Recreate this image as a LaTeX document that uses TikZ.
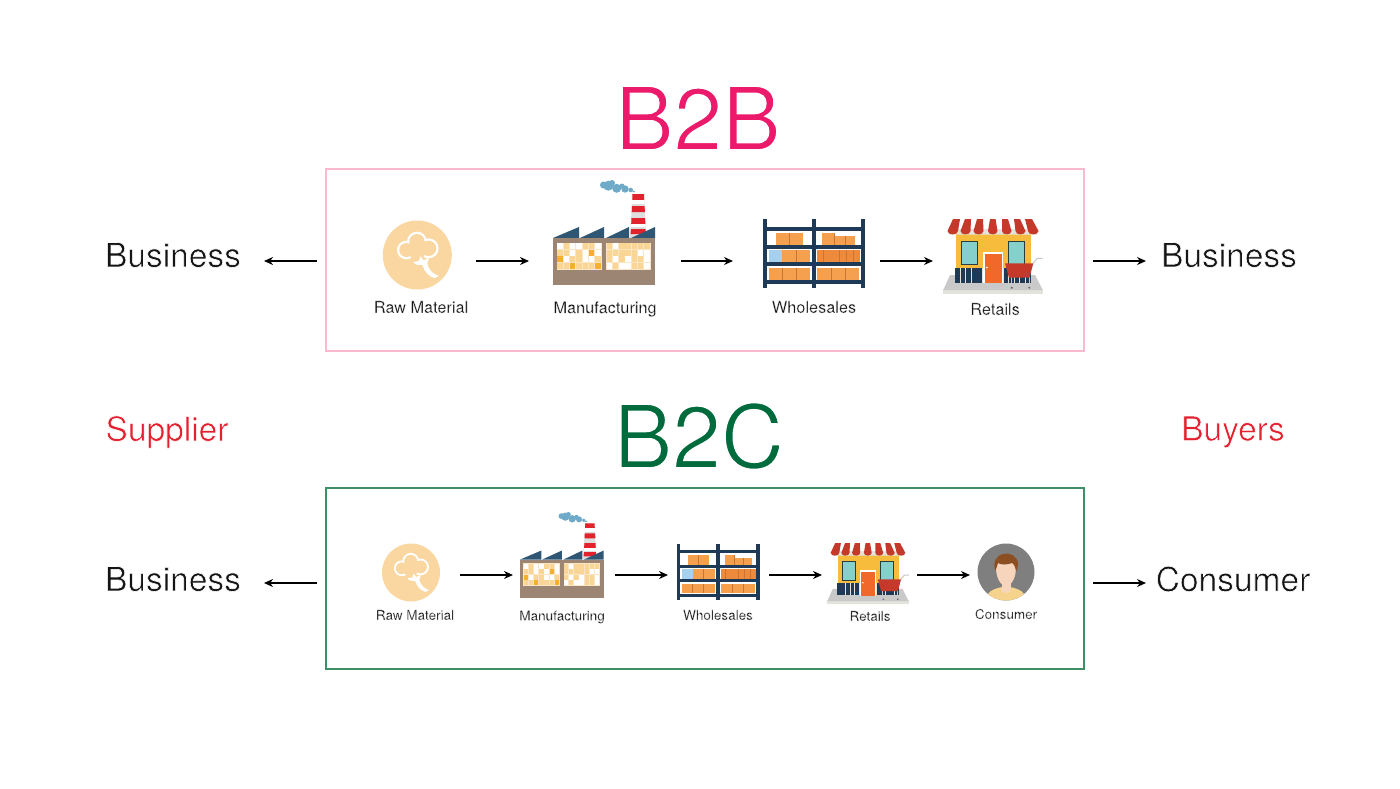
\documentclass[tikz,border=0pt]{standalone}
\usepackage{fontspec}
\setmainfont{TeX Gyre Heros}
\usetikzlibrary{arrows.meta}
\newcommand{\slimtext}[2]{\special{pdf:code q #1 w 2 Tr 1 1 1 RG}#2\special{pdf:code Q}}
\definecolor{pinkt}{HTML}{EC1A6B}
\definecolor{greent}{HTML}{006B3C}
\definecolor{pinkb}{HTML}{F9B9D0}
\definecolor{greenb}{HTML}{3E8E66}
\definecolor{redt}{HTML}{E5202E}
\definecolor{peach}{HTML}{FAD7A0}
\definecolor{brownf}{HTML}{9C8573}
\definecolor{roof}{HTML}{2F5673}
\definecolor{smoke}{HTML}{6FAAC9}
\definecolor{chred}{HTML}{E1232E}
\definecolor{chgrey}{HTML}{DEDEDE}
\definecolor{winbg}{HTML}{FAE6C4}
\definecolor{winp}{HTML}{F9D596}
\definecolor{wino}{HTML}{F5AE2E}
\definecolor{navy}{HTML}{1F3A57}
\definecolor{boxo}{HTML}{F5A04E}
\definecolor{boxd}{HTML}{EE8A3C}
\definecolor{boxb}{HTML}{A6D0F0}
\definecolor{awred}{HTML}{C5392B}
\definecolor{wall}{HTML}{F7BC3C}
\definecolor{teal}{HTML}{86D0CB}
\definecolor{doorc}{HTML}{F0692A}
\definecolor{plat}{HTML}{C9C9C9}
\definecolor{platl}{HTML}{E3E3DC}
\definecolor{greyc}{HTML}{7F7F7F}
\definecolor{skin}{HTML}{F7D5BC}
\definecolor{shirt}{HTML}{F6D38D}
\definecolor{hair}{HTML}{8B4F21}
\tikzset{
 x=1pt,y=-1pt,
 frameb/.style={draw=#1,line width=2pt,fill=none},
 arr/.style={-{Stealth[length=9pt,width=8pt]},line width=1.5pt,black},
 slot/.style={inner sep=0pt,outer sep=0pt,minimum height=1pt,draw=none},
 big/.style={inner sep=0pt,font=\fontsize{87.5}{87}\selectfont},
 mid/.style={inner sep=0pt,text=black!92,font=\fontsize{33.5}{34}\selectfont},
 lab/.style={inner sep=0pt,text=black!92,font=\fontsize{16.3}{17}\selectfont},
 labs/.style={inner sep=0pt,text=black!92,font=\fontsize{13.5}{14}\selectfont},
 cotton/.pic={
  \fill[peach] (0,0) circle (34.5);
  \begin{scope}[scale=1/3,shift={(-113,-112)}]
  \foreach \a/\b/\r in {80/97/28,112/72/30,147/92/30}{\fill[white] (\a,\b) circle (\r);}
  \foreach \a/\b/\r in {80/97/21,112/72/23,147/92/23,112/100/26}{\fill[peach] (\a,\b) circle (\r);}
  \fill[white] (100,133) -- (118,130) -- (122,116) -- (132,128) -- (148,120) -- (143,138) .. controls (146,155) and (160,170) .. (178,175) -- (165,181) .. controls (148,178) and (133,160) .. (128,142) -- (110,141) -- cycle;
  \end{scope}
 },
 factory/.pic={
  \begin{scope}[shift={(-553,-180)}]
  \foreach \a/\b/\r in {608.3/185.7/5,603.5/185/3.5,612/183/3,616.7/188.3/4.5,622/186/2.5,625/189/3.7,630.7/190/2.3}{\fill[smoke] (\a,\b) circle (\r);}
  \draw[smoke,line width=1pt] (630,190) -- (635,192);
  \fill[chgrey] (632.5,194) -- (644,194) -- (646,238) -- (630,238) -- cycle;
  \fill[chred] (632.5,194) -- (644,194) -- (644.2,200) -- (632.3,200) -- cycle;
  \fill[chred] (632,206) -- (644.6,206) -- (644.9,212) -- (631.7,212) -- cycle;
  \fill[chred] (631.5,218) -- (645.1,218) -- (645.4,224) -- (631.2,224) -- cycle;
  \fill[chred] (631,229) -- (645.6,229) -- (645.9,234) -- (630.5,234) -- cycle;
  \fill[white] (632.2,200) rectangle (644.4,204);
  \fill[white] (631.2,224) rectangle (645.4,227);
  \fill[roof] (553,238) -- (579,227) -- (579,238) -- cycle;
  \fill[roof] (580,238) -- (604,227) -- (604,238) -- cycle;
  \fill[roof] (606,238) -- (629,227) -- (629,238) -- cycle;
  \fill[roof] (631,238) -- (655,227) -- (655,238) -- cycle;
  \fill[brownf] (553,238) rectangle (655,284.5);
  \fill[winbg] (557,242.7) rectangle (601.7,270);
  \fill[winbg] (606.2,242.7) rectangle (650.5,270);
  \foreach \c [count=\i from 0] in {0,1,0,0,1,1,0, 1,1,0,1,0,2,0, 2,0,1,1,0,0,1, 1,1,2,1,1,1,2}{
   \pgfmathsetmacro{\cx}{557.3+mod(\i,7)*6.35}
   \pgfmathsetmacro{\cy}{243+floor(\i/7)*6.7}
   \ifnum\c=0 \fill[white] (\cx,\cy) rectangle ++(5.4,6);\fi
   \ifnum\c=1 \fill[winp] (\cx,\cy) rectangle ++(5.4,6);\fi
   \ifnum\c=2 \fill[wino] (\cx,\cy) rectangle ++(5.4,6);\fi
  }
  \foreach \c [count=\i from 0] in {1,0,1,1,1,1,1, 1,1,1,1,1,0,0, 1,0,1,0,1,1,0, 0,1,0,0,1,1,0}{
   \pgfmathsetmacro{\cx}{606.5+mod(\i,7)*6.3}
   \pgfmathsetmacro{\cy}{243+floor(\i/7)*6.7}
   \ifnum\c=0 \fill[white] (\cx,\cy) rectangle ++(5.4,6);\fi
   \ifnum\c=1 \fill[winp] (\cx,\cy) rectangle ++(5.4,6);\fi
  }
  \end{scope}
 },
 shelf/.pic={
  \begin{scope}[shift={(-763,-219)}]
  \fill[boxo] (776,232.7) rectangle (802.7,244.5);
  \fill[boxo] (821.7,232.7) rectangle (834,244.5);
  \fill[boxo] (834,235.7) rectangle (845,244.5);
  \fill[boxo] (845,235.7) rectangle (855.3,244.5);
  \fill[boxb] (769,250) rectangle (782.3,261.7);
  \fill[boxo] (782.3,250) rectangle (810,261.7);
  \fill[boxd] (816.7,250) rectangle (860,261.7);
  \fill[boxo] (769,268.3) rectangle (810,280);
  \fill[boxo] (816.7,268.3) rectangle (859.3,280);
  \draw[boxd!85!black,line width=.5pt] (789,232.7) -- (789,244.5) (834,232.7) -- (834,244.5) (845,235.7) -- (845,244.5)
    (796,250) -- (796,261.7) (823,250) -- (823,261.7) (839,250) -- (839,261.7) (846,250) -- (846,261.7) (853,250) -- (853,261.7)
    (782,268.3) -- (782,280) (796,268.3) -- (796,280) (831,268.3) -- (831,280) (845,268.3) -- (845,280);
  \fill[navy] (763.3,226.7) rectangle (865,230.7);
  \fill[navy] (763.3,245) rectangle (865,249);
  \fill[navy] (763.3,262.3) rectangle (865,266.3);
  \fill[navy] (763.3,280.3) rectangle (865,284.3);
  \fill[navy] (763.3,219) rectangle (766.7,288);
  \fill[navy] (811.7,219) rectangle (815.7,288);
  \fill[navy] (861,219) rectangle (865,288);
  \end{scope}
 },
 shop/.pic={
  \begin{scope}[shift={(-943,-219)}]
  \fill[platl] (943.3,289) rectangle (1042.7,293.5);
  \fill[plat] (950,275) -- (1035,275) -- (1042.7,290) -- (943.3,290) -- cycle;
  \fill[wall] (956,234) rectangle (1030.5,268);
  \fill[platl] (955,268) rectangle (1031,283);
  \foreach \i in {0,...,4}{\fill[navy] (955+\i*5.6,268) rectangle ++(4.7,15);}
  \fill[navy] (1004,268) rectangle ++(4.3,15);
  \foreach \i in {0,...,3}{\fill[navy] (1009+\i*5.6,268) rectangle ++(4.7,15);}
  \fill[teal,draw=black!70!teal,line width=1pt] (961.7,241.7) rectangle (977.7,264.3);
  \fill[teal,draw=black!70!teal,line width=1pt] (1008.3,241.7) rectangle (1024.3,264.3);
  \fill[white] (982.7,252.3) rectangle (1003.3,283.3);
  \fill[doorc] (984.5,254) rectangle (1001.5,283.3);
  \fill[white] (986.8,267.5) circle (1);
  \fill[platl] (951,229) -- (1035,229) -- (1037,234.5) -- (949,234.5) -- cycle;
  \foreach \ta/\tb/\ba/\bb in {953/960/947.5/958, 965/971/960.5/970.5, 977/983/973.5/983.5, 990/995.5/988/997.5, 1002/1008/1002/1011.5, 1014/1020/1015.5/1025.5, 1025/1032/1028/1038.5}{
    \fill[awred] (\ta,219) -- (\tb,219) -- (\bb,231) .. controls (\bb,235.5) and (\ba,235.5) .. (\ba,231) -- cycle;
  }
  \draw[plat,line width=1pt] (1033,263.3) -- (1037.3,258.3) -- (1042.7,258.3);
  \draw[plat,line width=.8pt] (1011,277) -- (1011,286) (1029,277) -- (1029,286);
  \fill[awred] (1005,263.3) -- (1033.3,263.3) -- (1029.5,277.7) -- (1009,277.7) -- cycle;
  \fill[black!60] (1011.7,287.7) circle (1.1) (1029.3,287.7) circle (1.1);
  \end{scope}
 },
 person/.pic={
  \fill[greyc] (0,0) circle (28.5);
  \begin{scope}
  \clip (0,0) circle (28.5);
  \fill[shirt] (-18,30) -- (-18,22) .. controls (-16,18) and (-9,16) .. (-4,15) -- (4,15) .. controls (9,16) and (16,18) .. (18,22) -- (18,30) -- cycle;
  \fill[skin] (-4.5,8) rectangle (4.5,17);
  \fill[skin] (0,18) ellipse (5 and 3);
  \fill[skin] (-10,-9) .. controls (-11,6) and (-5,14) .. (0,14) .. controls (5,14) and (11,6) .. (10,-9) -- cycle;
  \fill[hair] (-10.5,-1) .. controls (-14,-10) and (-9,-17) .. (-3,-18) .. controls (3,-20) and (12,-16) .. (12,-8) .. controls (12.2,-5) and (11,-3) .. (10,0) .. controls (9.5,-5) and (8,-8) .. (6,-9) .. controls (1,-7) and (-5,-7) .. (-8,-9) .. controls (-9,-6) and (-9.5,-4) .. (-10.5,-1) -- cycle;
  \end{scope}
 },
}
\begin{document}
\begin{tikzpicture}
\useasboundingbox (0,0) rectangle (1400,788);
\fill[white] (0,0) rectangle (1400,788);
% frames
\node[frameb=pinkb,inner sep=0pt,minimum width=758pt,minimum height=182pt] (boxA) at (705,260) {};
\node[frameb=greenb,inner sep=0pt,minimum width=758pt,minimum height=181pt] (boxB) at (705,578.5) {};
% titles
\node[big,text=pinkt] (titleA) at (698,118) {\slimtext{1.5}{B2B}};
\node[big,text=greent] (titleB) at (699,436) {\slimtext{1.5}{B2C}};
% side labels
\node[mid] (bizAL) at (173,255) {\slimtext{.6}{Business}};
\node[mid] (bizAR) at (1229,255) {\slimtext{.6}{Business}};
\node[mid] (bizBL) at (173,579) {\slimtext{.6}{Business}};
\node[mid] (conBR) at (1233,579) {\slimtext{.6}{Consumer}};
\node[mid,text=redt] (supp) at (167,432) {\slimtext{.6}{Supplier}};
\node[mid,text=redt] (buy) at (1233,432) {\slimtext{.6}{Buyers}};
% icons B2B
\pic at (417.3,255) {cotton};
\pic at (553,180) {factory};
\pic at (763,219) {shelf};
\pic at (943,219) {shop};
% icons B2C
\pic[scale=.84] at (411,572.5) {cotton};
\pic[scale=.82] at (520,512) {factory};
\pic[scale=.81] at (677,544) {shelf};
\pic[scale=.82] at (827,543) {shop};
\pic at (1006,572) {person};
% labels
\node[lab] (lA1) at (421,307) {\slimtext{.15}{Raw Material}};
\node[lab] (lA2) at (605,309) {\slimtext{.15}{Manufacturing}};
\node[lab] (lA3) at (814,307) {\slimtext{.15}{Wholesales}};
\node[lab] (lA4) at (995,309) {\slimtext{.15}{Retails}};
\node[labs] (lB1) at (415,615) {\slimtext{.12}{Raw Material}};
\node[labs] (lB2) at (562,617) {\slimtext{.12}{Manufacturing}};
\node[labs] (lB3) at (718,615) {\slimtext{.12}{Wholesales}};
\node[labs] (lB4) at (870,616) {\slimtext{.12}{Retails}};
\node[labs] (lB5) at (1006,614) {\slimtext{.12}{Consumer}};
% connector slots (invisible nodes the size of each step)
\node[slot,minimum width=118pt] (sA1) at (417,261) {};
\node[slot,minimum width=152pt] (sA2) at (605,261) {};
\node[slot,minimum width=147pt] (sA3) at (806.5,261) {};
\node[slot,minimum width=160pt] (sA4) at (1013,261) {};
\node[slot,minimum width=98pt] (sB1) at (411,575) {};
\node[slot,minimum width=102pt] (sB2) at (564,575) {};
\node[slot,minimum width=101pt] (sB3) at (718.5,575) {};
\node[slot,minimum width=95pt] (sB4) at (869.5,575) {};
\node[slot,minimum width=72pt] (sB5) at (1006,575) {};
\draw[arr] (sA1) -- (sA2);
\draw[arr] (sA2) -- (sA3);
\draw[arr] (sA3) -- (sA4);
\draw[arr] (sB1) -- (sB2);
\draw[arr] (sB2) -- (sB3);
\draw[arr] (sB3) -- (sB4);
\draw[arr] (sB4) -- (sB5);
% outer arrows
\coordinate (oA1) at (317,261); \coordinate (oA2) at (264,261);
\coordinate (oA3) at (1093,261); \coordinate (oA4) at (1146,261);
\coordinate (oB1) at (317,583); \coordinate (oB2) at (264,583);
\coordinate (oB3) at (1093,583); \coordinate (oB4) at (1146,583);
\draw[arr] (oA1) -- (oA2);
\draw[arr] (oA3) -- (oA4);
\draw[arr] (oB1) -- (oB2);
\draw[arr] (oB3) -- (oB4);
\end{tikzpicture}
\end{document}
